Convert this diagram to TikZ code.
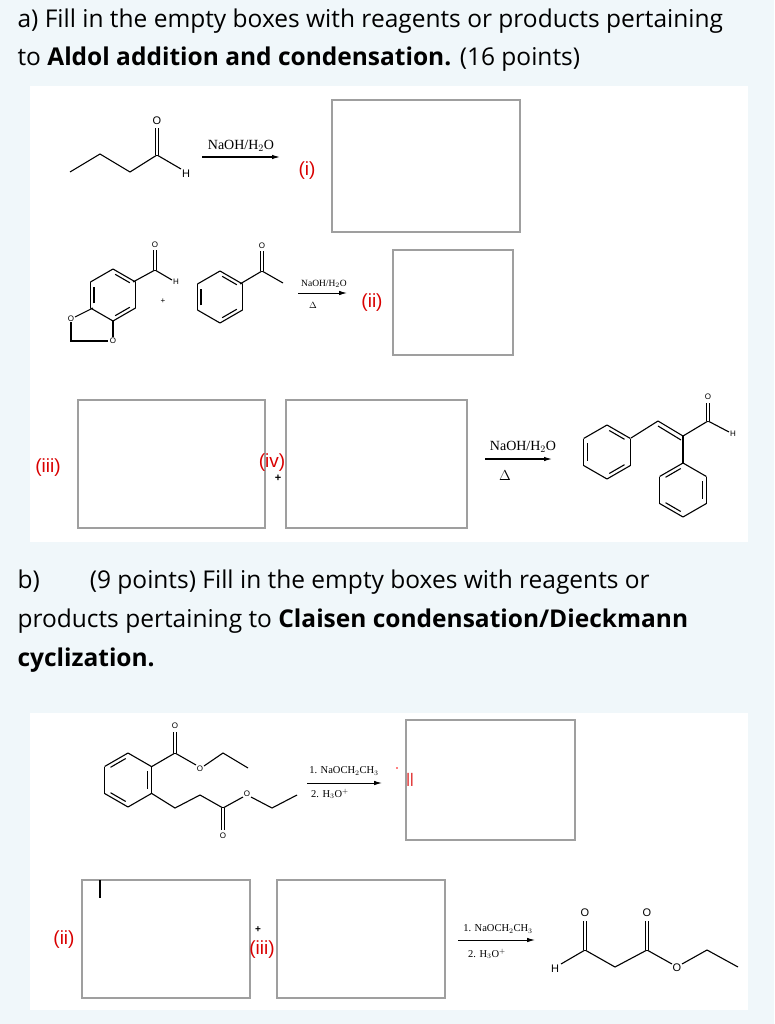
\documentclass[tikz,border=0pt]{standalone}
\usepackage{fontspec}
\setmainfont{Open Sans}
\newfontfamily\serf{Liberation Serif}
\newfontfamily\atf{Liberation Sans}
\usetikzlibrary{arrows.meta}
\newcommand\benz[4]{\begin{scope}[shift={(#1,#2)}]
\foreach \k in {0,...,5} \draw (30+60*\k:#3) -- (90+60*\k:#3);
\foreach \k in {0,2,4} \draw (30+60*\k+#4+6:0.8*#3) -- (90+60*\k+#4-6:0.8*#3);
\end{scope}}
\begin{document}
\begin{tikzpicture}[x=1pt,y=-1pt,line width=1.1pt,
 box/.style={draw=gray!75,line width=1.2pt},
 atm/.style={font=\atf\fontsize{11}{11}\selectfont,inner sep=0.5pt},
 atx/.style={font=\atf\fontsize{8}{8}\selectfont,inner sep=0.5pt},
 rg/.style={font=\serf\fontsize{14}{14}\selectfont,inner sep=0pt},
 rgs/.style={font=\serf\fontsize{10.5}{10.5}\selectfont,inner sep=0pt},
 hand/.style={text=red!85!black,font=\atf\fontsize{19}{19}\selectfont,inner sep=0pt},
 rarr/.style={-{Latex[length=8pt,width=4.5pt]},line width=1.1pt},
 dbl/.style={double,double distance=2.2pt,line width=0.95pt},
 hd/.style={font=\fontsize{24.5}{30}\selectfont,anchor=base west,inner sep=0pt}]
\fill[fill={rgb,255:red,240;green,247;blue,250}] (0,0) rectangle (774,1024);
\useasboundingbox (0,0) rectangle (774,1024);
\fill[white] (30,86) rectangle (748,542);
\fill[white] (30,713) rectangle (748,1010);
% headings
\node[hd] (h1) at (17,28) {a) Fill in the empty boxes with reagents or products pertaining};
\node[hd] (h2) at (17,66) {to \textbf{Aldol addition and condensation.} (16 points)};
\node[hd] (h3) at (17,588) {b)\hspace{50pt}(9 points) Fill in the empty boxes with reagents or};
\node[hd] (h4) at (17,627) {products pertaining to \textbf{Claisen condensation/Dieckmann}};
\node[hd] (h5) at (17,666) {\textbf{cyclization.}};
% boxes
\draw[box] (332,100) rectangle (520,232);
\draw[box] (393,250) rectangle (513,355);
\draw[box] (78,400) rectangle (265,528);
\draw[box] (286,400) rectangle (467,528);
\draw[box] (406,720) rectangle (575,840);
\draw[box] (82,880) rectangle (250,998);
\draw[box] (277,880) rectangle (445,998);
\draw[line width=1.2pt] (100,880) -- (100,898);
% row 1
\draw (70,172) -- (100,154) -- (130,172) -- (157,155) -- (181,169);
\draw[dbl] (157,155) -- (157,128);
\node[atm] (o1) at (157,121) {O};
\node[atm] (h1a) at (186,174) {H};
\coordinate (a1s) at (202,157); \coordinate (a1e) at (280,157);
\draw[rarr] (a1s) -- (a1e);
\node[rg] at (241,146) {NaOH/H$_2$O};
\node[hand] at (307,171) {(i)};
% row 2
\benz{113}{295}{26}{0}
\draw (133,282) -- (155,270) -- (172,280);
\draw[dbl] (155,270) -- (155,250);
\node[atx] at (155,245) {O};
\node[atx] at (176,282) {H};
\draw (93,308) -- (75,317); \draw (71,322) -- (71,341) -- (108,341);
\draw (113,321) -- (113,337);
\node[atx] at (71,319) {O};
\node[atx] at (113,341) {O};
\node[atx] at (163,301) {+};
\benz{220}{297}{26}{0}
\draw (240,284) -- (262,271) -- (283,283);
\draw[dbl] (262,271) -- (262,251);
\node[atx] at (262,246) {O};
\coordinate (a2s) at (298,293); \coordinate (a2e) at (347,293);
\draw[rarr,line width=0.9pt] (a2s) -- (a2e);
\node[rgs,font=\serf\fontsize{9.5}{9.5}\selectfont] at (324,284) {NaOH/H$_2$O};
\node[rgs,font=\serf\fontsize{9.5}{9.5}\selectfont] at (313,305) {$\Delta$};
\node[hand] at (372,303) {(ii)};
% row 3
\node[hand] at (48,468) {(iii)};
\node[hand] at (272,463) {(iv)};
\node[atm,font=\atf\bfseries\fontsize{11}{11}\selectfont] at (278,478) {+};
\coordinate (a3s) at (485,459); \coordinate (a3e) at (552,459);
\draw[rarr] (a3s) -- (a3e);
\node[rg] at (523,447) {NaOH/H$_2$O};
\node[rg] at (505,476) {$\Delta$};
\benz{607}{452}{27}{0}
\draw (631,438) -- (658,421);
\draw (658,421) -- (683,436);
\draw (658,426) -- (681,440);
\draw (683,436) -- (708,421) -- (729,432);
\draw[dbl] (708,421) -- (708,403);
\node[atx] at (708,397) {O};
\node[atx] at (733,434) {H};
\draw (683,436) -- (683,463);
\benz{683}{490}{27}{60}
% part b
\benz{128}{780}{27}{60}
\draw (151,767) -- (175,753) -- (196,765);
\draw[dbl] (175,753) -- (175,732);
\node[atx] at (175,726) {O};
\node[atx] at (200,769) {O};
\draw (204,766) -- (223,753) -- (248,768);
\draw (151,793) -- (175,808) -- (200,795) -- (223,808) -- (243,797);
\draw[dbl] (223,808) -- (223,830);
\node[atx] at (223,836) {O};
\node[atx] at (247,794) {O};
\draw (251,797) -- (272,808) -- (297,795);
\coordinate (b1s) at (307,783); \coordinate (b1e) at (382,783);
\draw[rarr,line width=0.9pt] (b1s) -- (b1e);
\node[rgs] at (344,771) {1. NaOCH$_2$CH$_3$};
\node[rgs] at (330,794) {2. H$_3$O$^+$};
\node[hand,font=\atf\fontsize{14}{14}\selectfont] at (410,780) {||};
\fill[red] (397,768) circle (0.8);
\node[hand] at (64,940) {(ii)};
\node[hand] at (262,950) {(iii)};
\node[atm,font=\atf\bfseries\fontsize{10}{10}\selectfont] at (258,930) {+};
\coordinate (b2s) at (458,940); \coordinate (b2e) at (535,940);
\draw[rarr,line width=0.9pt] (b2s) -- (b2e);
\node[rgs] at (498,929) {1. NaOCH$_2$CH$_3$};
\node[rgs] at (487,954) {2. H$_3$O$^+$};
\node[atm] at (555,969) {H};
\draw (561,964) -- (585,950) -- (615,967) -- (647,950) -- (672,964);
\draw[dbl] (585,950) -- (585,921);
\draw[dbl] (647,950) -- (647,921);
\node[atm] at (585,913) {O};
\node[atm] at (647,913) {O};
\node[atm] at (677,968) {O};
\draw (682,964) -- (707,950) -- (738,967);
\end{tikzpicture}
\end{document}
